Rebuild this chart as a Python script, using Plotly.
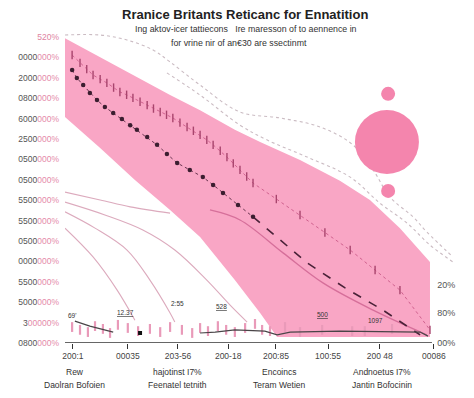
import plotly.graph_objects as go

# ---------------- data ----------------
band_x = [0, 8.9, 17.7, 26.6, 34.2, 43.0, 49.4, 53.7, 59.5, 69.6, 77.2, 84.8, 92.4]
band_upper = [97.4, 91.4, 85.3, 79.2, 74.4, 68.1, 64.2, 61.7, 58.5, 51.8, 45.7, 36.7, 25.9]
band_lower = [72.2, 62.3, 52.1, 42.5, 33.9, 20.1, 9.6, 1.9, 1.9, 1.9, 1.9, 1.9, 1.9]

dots_x = [1.8, 3.0, 4.6, 6.3, 8.1, 10.1, 12.2, 14.4, 16.5, 18.2, 20.8, 23.3, 25.8, 28.4,
          31.6, 34.9, 37.5, 40.0, 43.8, 47.6]
dots_y = [87.2, 84.7, 82.4, 79.9, 77.6, 75.4, 73.5, 71.6, 69.6, 68.1, 65.8, 63.3, 60.4, 57.5,
          55.3, 53.0, 50.5, 47.9, 44.1, 40.3]
dash_x = [47.6, 54.4, 61.3, 70.9, 80.5, 89.9]
dash_y = [40.3, 32.9, 25.6, 17.6, 10.5, 2.6]

ticks_x = [1.8, 3.8, 5.5, 7.1, 8.9, 10.6, 12.3, 13.9, 15.6, 17.2, 19.0, 20.8, 22.4, 24.1, 25.7,
           27.3, 29.1, 30.9, 32.5, 34.2, 35.9, 37.5, 39.3, 41.0, 42.6, 44.3, 46.0, 47.6,
           53.5, 59.5, 65.8, 72.2, 78.5, 84.8, 92.4]
ticks_y = [92.0, 89.5, 87.5, 85.6, 84.3, 83.1, 81.6, 80.2, 79.3, 78.3, 77.1, 76.0, 74.9, 73.8, 72.9,
           71.9, 70.4, 69.0, 67.8, 66.5, 64.9, 63.3, 61.4, 59.4, 57.4, 55.3, 53.2, 51.1,
           46.0, 40.9, 35.3, 29.7, 23.3, 16.9, 4.2]

inner_x = [36.7, 44.3, 55.2, 65.3, 78.0, 91.6]
inner_y = [42.5, 39.3, 28.8, 19.2, 10.5, 2.6]

grey1_x = [0, 8.9, 15.7, 22.3, 26.6, 34.2, 44.3, 54.4, 64.6, 72.9, 78.0, 82.3, 88.1, 91.6, 98.2]
grey1_y = [98.4, 98.4, 96.8, 93.6, 89.8, 82.4, 73.8, 71.9, 69.0, 63.3, 55.3, 46.6, 40.3, 35.5, 27.5]
grey2_x = [25.8, 34.2, 44.3, 51.1, 61.3, 72.2, 79.7, 86.6, 92.4, 98.2]
grey2_y = [86.3, 79.2, 69.6, 64.9, 59.4, 53.0, 44.7, 38.3, 31.3, 25.9]

thin1_x = [0, 8.9, 16.5, 26.6]
thin1_y = [48.2, 45.7, 43.5, 41.5]
thin2_x = [0, 10.1, 19.7, 27.8, 35.9, 41.8, 46.1]
thin2_y = [45.0, 40.9, 36.1, 29.7, 20.1, 12.1, 6.7]
thin3_x = [0, 7.6, 15.7, 21.5, 26.6, 27.8]
thin3_y = [41.9, 36.7, 29.7, 20.1, 9.6, 6.7]
thin4_x = [0, 7.1, 13.2, 17.7]
thin4_y = [36.7, 27.5, 16.9, 7.3]

base_x = [2.5, 6.3, 12.2, None, 34.2, 38.0, 43.0, 50.6, 53.7, 57.0, 69.6, 89.9, 91.9]
base_y = [7.0, 5.4, 3.5, None, 3.2, 3.5, 4.2, 3.8, 2.6, 3.5, 3.8, 3.5, 2.2]

noise_x = [1.8, 3.8, 5.8, 7.6, 9.6, 11.4, 13.4, 15.9, 18.5, 21.5, 24.1, 26.6, 29.6, 32.2, 34.2,
           36.2, 38.7, 40.8, 43.0, 45.6, 48.1, 49.9, 51.9, 55.7, 59.5, 65.1, 72.7, 75.9, 82.8]
noise_y = [5.1, 4.2, 3.5, 5.4, 4.5, 3.2, 5.8, 4.8, 3.8, 4.5, 3.5, 5.1, 4.2, 3.2, 4.8,
           3.8, 5.4, 4.2, 3.5, 4.8, 6.1, 4.2, 3.8, 5.1, 3.5, 4.2, 3.8, 3.8, 4.5]

circle_x = [81.8, 81.5, 81.8]
circle_y = [79.6, 64.2, 48.6]
circle_size = [14, 64, 14]

marker_x = [19.0]
marker_y = [3.2]

note_text = ["69'", "<span style='text-decoration:underline'>12.37</span>", "2:55",
             "<span style='text-decoration:underline'>528</span>",
             "<span style='text-decoration:underline'>500</span>", "1097"]
note_x = [1.8, 15.2, 28.6, 39.7, 65.1, 78.5]
note_y = [7.0, 8.0, 10.9, 9.9, 7.3, 5.4]

x_tickvals = [2.0, 15.9, 28.6, 41.3, 53.4, 66.6, 79.7, 93.4]
x_ticktext = ["200:1", "00035", "203-56", "200-18", "200:85", "100:55", "200 48", "00086"]

y_tickvals = [0, 6.5, 13.0, 19.6, 26.1, 32.6, 39.1, 45.6, 52.1, 58.7, 65.2, 71.7, 78.2, 84.7,
              91.3, 97.8]
y_heads = ["0800", "3", "5000", "5500", "0000", "0500", "5500", "5500", "0500", "0500",
           "2500", "6000", "0800", "2000", "0000", ""]
y_tails = ["000%", "00000%", "000%", "000%", "000%", "000%", "000%", "000%", "000%", "000%",
           "000%", "000%", "000%", "000%", "000%", "520%"]

r_tickvals = [0, 9.6, 18.5]
r_ticktext = ["00%", "80%", "20%"]

bottom_x = [2.5, 28.6, 54.4, 80.3]
bottom_row1 = ["Rew", "hajotinst I7%", "Encoincs", "Andnoetus I7%"]
bottom_row2 = ["Daolran Bofoien", "Feenatel tetnith", "Teram Wetien", "Jantin Bofocinin"]

title_text = "Rranice Britants Reticanc for Ennatition"
sub1_text = "Ing aktov-icer tattiecons   Ire maresson of to aennence in"
sub2_text = "for vrine nir of an\u20ac30 are ssectinmt"

# ---------------- styles ----------------
PINK_BAND = "#F9A6C5"
PINK_CIRCLE = "#F485AD"
FONT = "Liberation Sans"

fig = go.Figure()

fig.add_trace(go.Scatter(x=band_x, y=band_upper, mode="lines", line=dict(width=0),
                         hoverinfo="skip", showlegend=False))
fig.add_trace(go.Scatter(x=band_x, y=band_lower, mode="lines", line=dict(width=0),
                         fill="tonexty", fillcolor=PINK_BAND, hoverinfo="skip",
                         showlegend=False))

for gx, gy in [(grey1_x, grey1_y), (grey2_x, grey2_y)]:
    fig.add_trace(go.Scatter(x=gx, y=gy, mode="lines", line_shape="spline",
                             line=dict(color="#cbbcc3", width=1.1, dash="dot"),
                             showlegend=False))

for tx, ty in [(thin1_x, thin1_y), (thin2_x, thin2_y), (thin3_x, thin3_y), (thin4_x, thin4_y)]:
    fig.add_trace(go.Scatter(x=tx, y=ty, mode="lines", line_shape="spline",
                             line=dict(color="#dcaabd", width=1.1), showlegend=False))

fig.add_trace(go.Scatter(x=inner_x, y=inner_y, mode="lines", line_shape="spline",
                         line=dict(color="#d66f9a", width=1.3), showlegend=False))

fig.add_trace(go.Scatter(x=ticks_x, y=ticks_y, mode="lines+markers",
                         line=dict(color="#d0628f", width=1, dash="dot"),
                         marker=dict(symbol="line-ns-open", size=6, color="#a8446d",
                                     line=dict(color="#a8446d", width=1.4)),
                         showlegend=False))

fig.add_trace(go.Scatter(x=dash_x, y=dash_y, mode="lines",
                         line=dict(color="#4a2238", width=1.6, dash="dash"),
                         showlegend=False))
fig.add_trace(go.Scatter(x=dots_x, y=dots_y, mode="lines+markers",
                         line=dict(color="#6a3450", width=1, dash="dot"),
                         marker=dict(color="#3b1e30", size=4.5), showlegend=False))

fig.add_trace(go.Scatter(x=noise_x, y=noise_y, mode="markers",
                         marker=dict(symbol="line-ns-open", size=7, color="#e99ab9",
                                     line=dict(color="#e99ab9", width=2.2)),
                         showlegend=False))

fig.add_trace(go.Scatter(x=base_x, y=base_y, mode="lines",
                         line=dict(color="#4a4548", width=1.2), showlegend=False))

fig.add_trace(go.Scatter(x=marker_x, y=marker_y, mode="markers",
                         marker=dict(symbol="square", size=4, color="#111"),
                         showlegend=False))

fig.add_trace(go.Scatter(x=[0, 92.9], y=[0, 0], mode="lines",
                         line=dict(color="#333", width=1.3), showlegend=False))

fig.add_trace(go.Scatter(x=circle_x, y=circle_y, mode="markers",
                         marker=dict(size=circle_size, color=PINK_CIRCLE, opacity=1,
                                     line=dict(width=0)),
                         showlegend=False))

# invisible trace to activate the right axis
fig.add_trace(go.Scatter(x=[0], y=[0], yaxis="y2", mode="markers",
                         marker=dict(opacity=0), showlegend=False, hoverinfo="skip"))

for t, x, y in zip(note_text, note_x, note_y):
    fig.add_annotation(x=x, y=y, xref="x", yref="y", text=t, showarrow=False,
                       yanchor="bottom", font=dict(size=6.5, color="#333", family=FONT))

for x, t1, t2 in zip(bottom_x, bottom_row1, bottom_row2):
    fig.add_annotation(x=x, y=-0.093, xref="x", yref="paper", text=t1, showarrow=False,
                       yanchor="middle", font=dict(size=8.5, color="#333", family=FONT))
    fig.add_annotation(x=x, y=-0.134, xref="x", yref="paper", text=t2, showarrow=False,
                       yanchor="middle", font=dict(size=8.5, color="#333", family=FONT))

fig.add_annotation(x=0.456, y=1.048, xref="paper", yref="paper", text="<b>" + title_text + "</b>",
                   showarrow=False, yanchor="middle",
                   font=dict(size=13, color="#222", family=FONT))
fig.add_annotation(x=0.458, y=1.003, xref="paper", yref="paper", text=sub1_text,
                   showarrow=False, yanchor="middle",
                   font=dict(size=8.8, color="#333", family=FONT))
fig.add_annotation(x=0.44, y=0.958, xref="paper", yref="paper", text=sub2_text,
                   showarrow=False, yanchor="middle",
                   font=dict(size=8.8, color="#333", family=FONT))

y_ticktext = [h + "<span style='color:#e58aa9'>" + t + "</span>" if h else
              "<span style='color:#e0849f'>" + t + "</span>"
              for h, t in zip(y_heads, y_tails)]

# the page body adds an 8px offset; the figure is sized/margined to compensate
fig.update_layout(
    width=458, height=382,
    margin=dict(l=57, r=6, t=22, b=47),
    paper_bgcolor="white", plot_bgcolor="white",
    font=dict(family=FONT, color="#555"),
    xaxis=dict(range=[0, 100], showgrid=False, zeroline=False, showline=False,
               tickvals=x_tickvals, ticktext=x_ticktext, ticks="outside", ticklen=5,
               tickcolor="#333", tickfont=dict(size=8.5, color="#444")),
    yaxis=dict(range=[0, 100], showgrid=False, zeroline=False, showline=False,
               tickvals=y_tickvals, ticktext=y_ticktext, ticks="",
               tickfont=dict(size=8.5, color="#555"), ticklabelstandoff=5,
               automargin=False),
    yaxis2=dict(range=[0, 100], overlaying="y", anchor="free", position=0.94, side="right",
                showgrid=False, zeroline=False, showline=False,
                tickvals=r_tickvals, ticktext=r_ticktext, ticks="",
                tickfont=dict(size=9, color="#555"), automargin=False),
)

fig.write_html("out.html")
